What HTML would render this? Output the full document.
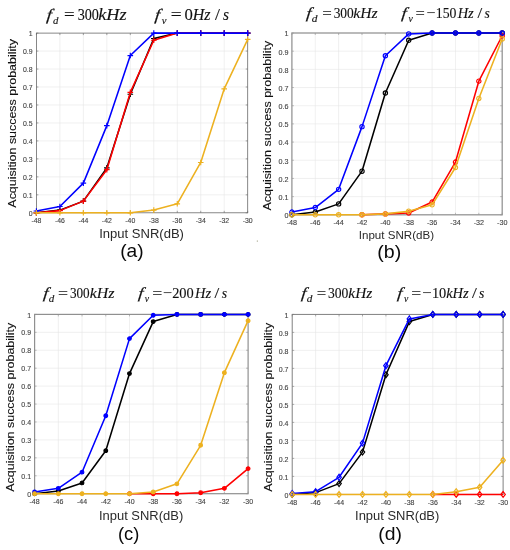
<!DOCTYPE html>
<html lang="en"><head><meta charset="utf-8"><title>Acquisition success probability</title>
<style>
html,body{margin:0;padding:0;background:#fff}
body{width:510px;height:550px;overflow:hidden}
svg{display:block}
text{font-family:"Liberation Sans",sans-serif;fill:#222}
.tk{fill:#444;stroke:#444;stroke-width:0.12px}
.ti{font-family:"Liberation Serif",serif;fill:#111;stroke:#111;stroke-width:0.12px}
.yl{fill:#111;stroke:#111;stroke-width:0.1px}
.xl{fill:#2a2a2a}
.tf{stroke-width:0.25px}
.cap{fill:#0a0a0a}
</style></head><body>
<svg width="510" height="550" viewBox="0 0 510 550">
<rect width="510" height="550" fill="#fff"/>
<g id="pa">
<path d="M59.88 33.1V212.8M83.36 33.1V212.8M106.83 33.1V212.8M130.31 33.1V212.8M153.79 33.1V212.8M177.27 33.1V212.8M200.74 33.1V212.8M224.22 33.1V212.8M36.4 194.83H247.7M36.4 176.86H247.7M36.4 158.89H247.7M36.4 140.92H247.7M36.4 122.95H247.7M36.4 104.98H247.7M36.4 87.01H247.7M36.4 69.04H247.7M36.4 51.07H247.7" stroke="#e6e6e6" stroke-width="0.6" fill="none"/>
<rect x="36.4" y="33.1" width="211.3" height="179.7" fill="none" stroke="#6a6a6a" stroke-width="0.8"/>
<path d="M36.4 212.8v-2M36.4 33.1v2M59.88 212.8v-2M59.88 33.1v2M83.36 212.8v-2M83.36 33.1v2M106.83 212.8v-2M106.83 33.1v2M130.31 212.8v-2M130.31 33.1v2M153.79 212.8v-2M153.79 33.1v2M177.27 212.8v-2M177.27 33.1v2M200.74 212.8v-2M200.74 33.1v2M224.22 212.8v-2M224.22 33.1v2M247.7 212.8v-2M247.7 33.1v2M36.4 212.8h2M247.7 212.8h-2M36.4 194.83h2M247.7 194.83h-2M36.4 176.86h2M247.7 176.86h-2M36.4 158.89h2M247.7 158.89h-2M36.4 140.92h2M247.7 140.92h-2M36.4 122.95h2M247.7 122.95h-2M36.4 104.98h2M247.7 104.98h-2M36.4 87.01h2M247.7 87.01h-2M36.4 69.04h2M247.7 69.04h-2M36.4 51.07h2M247.7 51.07h-2M36.4 33.1h2M247.7 33.1h-2" stroke="#6a6a6a" stroke-width="0.6" fill="none"/>
<text x="36.4" y="223" class="tk" style="font-size:6.9px" text-anchor="middle">-48</text>
<text x="59.88" y="223" class="tk" style="font-size:6.9px" text-anchor="middle">-46</text>
<text x="83.36" y="223" class="tk" style="font-size:6.9px" text-anchor="middle">-44</text>
<text x="106.83" y="223" class="tk" style="font-size:6.9px" text-anchor="middle">-42</text>
<text x="130.31" y="223" class="tk" style="font-size:6.9px" text-anchor="middle">-40</text>
<text x="153.79" y="223" class="tk" style="font-size:6.9px" text-anchor="middle">-38</text>
<text x="177.27" y="223" class="tk" style="font-size:6.9px" text-anchor="middle">-36</text>
<text x="200.74" y="223" class="tk" style="font-size:6.9px" text-anchor="middle">-34</text>
<text x="224.22" y="223" class="tk" style="font-size:6.9px" text-anchor="middle">-32</text>
<text x="247.7" y="223" class="tk" style="font-size:6.9px" text-anchor="middle">-30</text>
<text x="32.6" y="215.81" class="tk" style="font-size:6.9px" text-anchor="end">0</text>
<text x="32.6" y="197.84" class="tk" style="font-size:6.9px" text-anchor="end">0.1</text>
<text x="32.6" y="179.88" class="tk" style="font-size:6.9px" text-anchor="end">0.2</text>
<text x="32.6" y="161.91" class="tk" style="font-size:6.9px" text-anchor="end">0.3</text>
<text x="32.6" y="143.94" class="tk" style="font-size:6.9px" text-anchor="end">0.4</text>
<text x="32.6" y="125.97" class="tk" style="font-size:6.9px" text-anchor="end">0.5</text>
<text x="32.6" y="108" class="tk" style="font-size:6.9px" text-anchor="end">0.6</text>
<text x="32.6" y="90.03" class="tk" style="font-size:6.9px" text-anchor="end">0.7</text>
<text x="32.6" y="72.05" class="tk" style="font-size:6.9px" text-anchor="end">0.8</text>
<text x="32.6" y="54.08" class="tk" style="font-size:6.9px" text-anchor="end">0.9</text>
<text x="32.6" y="36.11" class="tk" style="font-size:6.9px" text-anchor="end">1</text>
<polyline points="36.4,212.8 59.88,210.1 83.36,201.12 106.83,167.88 130.31,94.2 153.79,38.49 177.27,33.1 200.74,33.1 224.22,33.1 247.7,33.1" fill="none" stroke="#000000" stroke-width="1.55" stroke-linejoin="round"/>
<path d="M33.6 212.8h5.6M36.4 210v5.6M57.08 210.1h5.6M59.88 207.3v5.6M80.56 201.12h5.6M83.36 198.32v5.6M104.03 167.88h5.6M106.83 165.07v5.6M127.51 94.2h5.6M130.31 91.4v5.6M150.99 38.49h5.6M153.79 35.69v5.6M174.47 33.1h5.6M177.27 30.3v5.6M197.94 33.1h5.6M200.74 30.3v5.6M221.42 33.1h5.6M224.22 30.3v5.6M244.9 33.1h5.6M247.7 30.3v5.6" fill="none" stroke="#000000" stroke-width="1.15"/>
<polyline points="36.4,212.8 59.88,210.64 83.36,201.12 106.83,169.67 130.31,92.4 153.79,40.29 177.27,33.1 200.74,33.1 224.22,33.1 247.7,33.1" fill="none" stroke="#ff0000" stroke-width="1.55" stroke-linejoin="round"/>
<path d="M33.6 212.8h5.6M36.4 210v5.6M57.08 210.64h5.6M59.88 207.84v5.6M80.56 201.12h5.6M83.36 198.32v5.6M104.03 169.67h5.6M106.83 166.87v5.6M127.51 92.4h5.6M130.31 89.6v5.6M150.99 40.29h5.6M153.79 37.49v5.6M174.47 33.1h5.6M177.27 30.3v5.6M197.94 33.1h5.6M200.74 30.3v5.6M221.42 33.1h5.6M224.22 30.3v5.6M244.9 33.1h5.6M247.7 30.3v5.6" fill="none" stroke="#ff0000" stroke-width="1.15"/>
<polyline points="36.4,211 59.88,206.51 83.36,183.15 106.83,125.65 130.31,55.56 153.79,33.1 177.27,33.1 200.74,33.1 224.22,33.1 247.7,33.1" fill="none" stroke="#0000ff" stroke-width="1.55" stroke-linejoin="round"/>
<path d="M33.6 211h5.6M36.4 208.2v5.6M57.08 206.51h5.6M59.88 203.71v5.6M80.56 183.15h5.6M83.36 180.35v5.6M104.03 125.65h5.6M106.83 122.85v5.6M127.51 55.56h5.6M130.31 52.76v5.6M150.99 33.1h5.6M153.79 30.3v5.6M174.47 33.1h5.6M177.27 30.3v5.6M197.94 33.1h5.6M200.74 30.3v5.6M221.42 33.1h5.6M224.22 30.3v5.6M244.9 33.1h5.6M247.7 30.3v5.6" fill="none" stroke="#0000ff" stroke-width="1.15"/>
<polyline points="36.4,212.8 59.88,212.8 83.36,212.8 106.83,212.8 130.31,212.8 153.79,210.1 177.27,203.81 200.74,162.48 224.22,88.81 247.7,39.39" fill="none" stroke="#edb120" stroke-width="1.55" stroke-linejoin="round"/>
<path d="M33.6 212.8h5.6M36.4 210v5.6M57.08 212.8h5.6M59.88 210v5.6M80.56 212.8h5.6M83.36 210v5.6M104.03 212.8h5.6M106.83 210v5.6M127.51 212.8h5.6M130.31 210v5.6M150.99 210.1h5.6M153.79 207.3v5.6M174.47 203.81h5.6M177.27 201.01v5.6M197.94 162.48h5.6M200.74 159.68v5.6M221.42 88.81h5.6M224.22 86.01v5.6M244.9 39.39h5.6M247.7 36.59v5.6" fill="none" stroke="#edb120" stroke-width="1.15"/>
<text class="ti tf" style="font-size:16px;font-style:italic" transform="translate(46.34 19.7) skewX(-7) scale(1.12 1)">f</text>
<text class="ti" style="font-size:10px;font-style:italic" transform="translate(52.97 23.5) scale(1.0851 1)">d</text>
<text class="ti" style="font-size:16px" transform="translate(64.05 19.7) scale(1.1828 1)">=</text>
<text class="ti" style="font-size:16px" transform="translate(77.69 19.7) scale(0.8865 1)">300</text>
<text class="ti" style="font-size:16px;font-style:italic" transform="translate(98.25 19.7) scale(1.1382 1)">kHz</text>
<text class="ti tf" style="font-size:16px;font-style:italic" transform="translate(154.59 19.7) skewX(-7) scale(1.12 1)">f</text>
<text class="ti" style="font-size:10px;font-style:italic" transform="translate(161.84 23.5) scale(1.0698 1)">v</text>
<text class="ti" style="font-size:16px" transform="translate(170.83 19.7) scale(1.2097 1)">=</text>
<text class="ti" style="font-size:16px" transform="translate(184.43 19.7) scale(1.0417 1)">0</text>
<text class="ti" style="font-size:16px;font-style:italic" transform="translate(192.66 19.7) scale(1.0011 1)">Hz</text>
<text class="ti" style="font-size:16px" transform="translate(215.1 19.7) scale(1.1136 1)">/</text>
<text class="ti" style="font-size:16px;font-style:italic" transform="translate(223.07 19.7) scale(0.9601 1)">s</text>
<text class="yl" style="font-size:11.6px" transform="translate(16.1 207.66) rotate(-90) scale(1.0723 1)">Acquisition success probability</text>
<text class="xl" style="font-size:12px" transform="translate(99.23 238.3) scale(1.0866 1)">Input SNR(dB)</text>
<text class="cap" style="font-size:17.8px" transform="translate(120.15 257.3) scale(1.0776 1)">(a)</text>
</g>
<g id="pb">
<path d="M315.27 33V214.8M338.63 33V214.8M362 33V214.8M385.37 33V214.8M408.73 33V214.8M432.1 33V214.8M455.47 33V214.8M478.83 33V214.8M291.9 196.62H502.2M291.9 178.44H502.2M291.9 160.26H502.2M291.9 142.08H502.2M291.9 123.9H502.2M291.9 105.72H502.2M291.9 87.54H502.2M291.9 69.36H502.2M291.9 51.18H502.2" stroke="#e6e6e6" stroke-width="0.6" fill="none"/>
<rect x="291.9" y="33" width="210.3" height="181.8" fill="none" stroke="#969696" stroke-width="1.3"/>
<path d="M291.9 214.8v-2M291.9 33v2M315.27 214.8v-2M315.27 33v2M338.63 214.8v-2M338.63 33v2M362 214.8v-2M362 33v2M385.37 214.8v-2M385.37 33v2M408.73 214.8v-2M408.73 33v2M432.1 214.8v-2M432.1 33v2M455.47 214.8v-2M455.47 33v2M478.83 214.8v-2M478.83 33v2M502.2 214.8v-2M502.2 33v2M291.9 214.8h2M502.2 214.8h-2M291.9 196.62h2M502.2 196.62h-2M291.9 178.44h2M502.2 178.44h-2M291.9 160.26h2M502.2 160.26h-2M291.9 142.08h2M502.2 142.08h-2M291.9 123.9h2M502.2 123.9h-2M291.9 105.72h2M502.2 105.72h-2M291.9 87.54h2M502.2 87.54h-2M291.9 69.36h2M502.2 69.36h-2M291.9 51.18h2M502.2 51.18h-2M291.9 33h2M502.2 33h-2" stroke="#969696" stroke-width="0.6" fill="none"/>
<text x="291.9" y="225" class="tk" style="font-size:7.2px" text-anchor="middle">-48</text>
<text x="315.27" y="225" class="tk" style="font-size:7.2px" text-anchor="middle">-46</text>
<text x="338.63" y="225" class="tk" style="font-size:7.2px" text-anchor="middle">-44</text>
<text x="362" y="225" class="tk" style="font-size:7.2px" text-anchor="middle">-42</text>
<text x="385.37" y="225" class="tk" style="font-size:7.2px" text-anchor="middle">-40</text>
<text x="408.73" y="225" class="tk" style="font-size:7.2px" text-anchor="middle">-38</text>
<text x="432.1" y="225" class="tk" style="font-size:7.2px" text-anchor="middle">-36</text>
<text x="455.47" y="225" class="tk" style="font-size:7.2px" text-anchor="middle">-34</text>
<text x="478.83" y="225" class="tk" style="font-size:7.2px" text-anchor="middle">-32</text>
<text x="502.2" y="225" class="tk" style="font-size:7.2px" text-anchor="middle">-30</text>
<text x="288.4" y="218.12" class="tk" style="font-size:7.2px" text-anchor="end">0</text>
<text x="288.4" y="199.94" class="tk" style="font-size:7.2px" text-anchor="end">0.1</text>
<text x="288.4" y="181.76" class="tk" style="font-size:7.2px" text-anchor="end">0.2</text>
<text x="288.4" y="163.58" class="tk" style="font-size:7.2px" text-anchor="end">0.3</text>
<text x="288.4" y="145.4" class="tk" style="font-size:7.2px" text-anchor="end">0.4</text>
<text x="288.4" y="127.22" class="tk" style="font-size:7.2px" text-anchor="end">0.5</text>
<text x="288.4" y="109.04" class="tk" style="font-size:7.2px" text-anchor="end">0.6</text>
<text x="288.4" y="90.86" class="tk" style="font-size:7.2px" text-anchor="end">0.7</text>
<text x="288.4" y="72.68" class="tk" style="font-size:7.2px" text-anchor="end">0.8</text>
<text x="288.4" y="54.5" class="tk" style="font-size:7.2px" text-anchor="end">0.9</text>
<text x="288.4" y="36.32" class="tk" style="font-size:7.2px" text-anchor="end">1</text>
<polyline points="291.9,214.8 315.27,212.07 338.63,203.89 362,171.17 385.37,92.99 408.73,40.27 432.1,33 455.47,33 478.83,33 502.2,33" fill="none" stroke="#000000" stroke-width="1.55" stroke-linejoin="round"/>
<path d="M289.75 214.8a2.15 2.15 0 1 0 4.3 0a2.15 2.15 0 1 0 -4.3 0M313.12 212.07a2.15 2.15 0 1 0 4.3 0a2.15 2.15 0 1 0 -4.3 0M336.48 203.89a2.15 2.15 0 1 0 4.3 0a2.15 2.15 0 1 0 -4.3 0M359.85 171.17a2.15 2.15 0 1 0 4.3 0a2.15 2.15 0 1 0 -4.3 0M383.22 92.99a2.15 2.15 0 1 0 4.3 0a2.15 2.15 0 1 0 -4.3 0M406.58 40.27a2.15 2.15 0 1 0 4.3 0a2.15 2.15 0 1 0 -4.3 0M429.95 33a2.15 2.15 0 1 0 4.3 0a2.15 2.15 0 1 0 -4.3 0M453.32 33a2.15 2.15 0 1 0 4.3 0a2.15 2.15 0 1 0 -4.3 0M476.68 33a2.15 2.15 0 1 0 4.3 0a2.15 2.15 0 1 0 -4.3 0M500.05 33a2.15 2.15 0 1 0 4.3 0a2.15 2.15 0 1 0 -4.3 0" fill="none" stroke="#000000" stroke-width="1.15"/>
<polyline points="362,214.8 385.37,213.89 408.73,212.98 432.1,202.07 455.47,162.08 478.83,81.18 502.2,35.73" fill="none" stroke="#ff0000" stroke-width="1.55" stroke-linejoin="round"/>
<path d="M359.85 214.8a2.15 2.15 0 1 0 4.3 0a2.15 2.15 0 1 0 -4.3 0M383.22 213.89a2.15 2.15 0 1 0 4.3 0a2.15 2.15 0 1 0 -4.3 0M406.58 212.98a2.15 2.15 0 1 0 4.3 0a2.15 2.15 0 1 0 -4.3 0M429.95 202.07a2.15 2.15 0 1 0 4.3 0a2.15 2.15 0 1 0 -4.3 0M453.32 162.08a2.15 2.15 0 1 0 4.3 0a2.15 2.15 0 1 0 -4.3 0M476.68 81.18a2.15 2.15 0 1 0 4.3 0a2.15 2.15 0 1 0 -4.3 0M500.05 35.73a2.15 2.15 0 1 0 4.3 0a2.15 2.15 0 1 0 -4.3 0" fill="none" stroke="#ff0000" stroke-width="1.15"/>
<polyline points="291.9,212.07 315.27,207.53 338.63,189.35 362,126.63 385.37,55.72 408.73,33.91 432.1,33 455.47,33 478.83,33 502.2,33" fill="none" stroke="#0000ff" stroke-width="1.55" stroke-linejoin="round"/>
<path d="M289.75 212.07a2.15 2.15 0 1 0 4.3 0a2.15 2.15 0 1 0 -4.3 0M313.12 207.53a2.15 2.15 0 1 0 4.3 0a2.15 2.15 0 1 0 -4.3 0M336.48 189.35a2.15 2.15 0 1 0 4.3 0a2.15 2.15 0 1 0 -4.3 0M359.85 126.63a2.15 2.15 0 1 0 4.3 0a2.15 2.15 0 1 0 -4.3 0M383.22 55.72a2.15 2.15 0 1 0 4.3 0a2.15 2.15 0 1 0 -4.3 0M406.58 33.91a2.15 2.15 0 1 0 4.3 0a2.15 2.15 0 1 0 -4.3 0M429.95 33a2.15 2.15 0 1 0 4.3 0a2.15 2.15 0 1 0 -4.3 0M453.32 33a2.15 2.15 0 1 0 4.3 0a2.15 2.15 0 1 0 -4.3 0M476.68 33a2.15 2.15 0 1 0 4.3 0a2.15 2.15 0 1 0 -4.3 0M500.05 33a2.15 2.15 0 1 0 4.3 0a2.15 2.15 0 1 0 -4.3 0" fill="none" stroke="#0000ff" stroke-width="1.15"/>
<polyline points="291.9,214.8 315.27,214.8 338.63,214.8 362,214.8 385.37,213.89 408.73,211.16 432.1,204.8 455.47,167.53 478.83,98.45 502.2,39" fill="none" stroke="#edb120" stroke-width="1.55" stroke-linejoin="round"/>
<path d="M289.75 214.8a2.15 2.15 0 1 0 4.3 0a2.15 2.15 0 1 0 -4.3 0M313.12 214.8a2.15 2.15 0 1 0 4.3 0a2.15 2.15 0 1 0 -4.3 0M336.48 214.8a2.15 2.15 0 1 0 4.3 0a2.15 2.15 0 1 0 -4.3 0M359.85 214.8a2.15 2.15 0 1 0 4.3 0a2.15 2.15 0 1 0 -4.3 0M383.22 213.89a2.15 2.15 0 1 0 4.3 0a2.15 2.15 0 1 0 -4.3 0M406.58 211.16a2.15 2.15 0 1 0 4.3 0a2.15 2.15 0 1 0 -4.3 0M429.95 204.8a2.15 2.15 0 1 0 4.3 0a2.15 2.15 0 1 0 -4.3 0M453.32 167.53a2.15 2.15 0 1 0 4.3 0a2.15 2.15 0 1 0 -4.3 0M476.68 98.45a2.15 2.15 0 1 0 4.3 0a2.15 2.15 0 1 0 -4.3 0M500.05 39a2.15 2.15 0 1 0 4.3 0a2.15 2.15 0 1 0 -4.3 0" fill="none" stroke="#edb120" stroke-width="1.15"/>
<text class="ti tf" style="font-size:15.4px;font-style:italic" transform="translate(305.89 17.5) skewX(-7) scale(1.12 1)">f</text>
<text class="ti" style="font-size:9.8px;font-style:italic" transform="translate(311.86 21.6) scale(1.1724 1)">d</text>
<text class="ti" style="font-size:15.4px" transform="translate(322.15 17.5) scale(1.1032 1)">=</text>
<text class="ti" style="font-size:15.4px" transform="translate(333.63 17.5) scale(0.8704 1)">300</text>
<text class="ti" style="font-size:15.4px;font-style:italic" transform="translate(353.33 17.5) scale(1.0149 1)">kHz</text>
<text class="ti tf" style="font-size:15.4px;font-style:italic" transform="translate(401.29 17.5) skewX(-7) scale(1.12 1)">f</text>
<text class="ti" style="font-size:9.8px;font-style:italic" transform="translate(408.45 21.6) scale(0.9967 1)">v</text>
<text class="ti" style="font-size:15.4px" transform="translate(415.57 17.5) scale(1.0753 1)">=</text>
<text class="ti" style="font-size:15.4px" transform="translate(426.39 17.5) scale(1.0473 1)">−</text>
<text class="ti" style="font-size:15.4px" transform="translate(435.76 17.5) scale(0.8958 1)">150</text>
<text class="ti" style="font-size:15.4px;font-style:italic" transform="translate(457.64 17.5) scale(0.9402 1)">Hz</text>
<text class="ti" style="font-size:15.4px" transform="translate(477.5 17.5) scale(1.1098 1)">/</text>
<text class="ti" style="font-size:15.4px;font-style:italic" transform="translate(484.4 17.5) scale(0.8846 1)">s</text>
<text class="yl" style="font-size:11.4px" transform="translate(271.2 210.56) rotate(-90) scale(1.0988 1)">Acquisition success probability</text>
<text class="xl" style="font-size:11.2px" transform="translate(358.76 239.4) scale(1.0349 1)">Input SNR(dB)</text>
<text class="cap" style="font-size:18.6px" transform="translate(377.22 258.4) scale(1.0557 1)">(b)</text>
</g>
<g id="pc">
<path d="M58.32 314.4V493.7M82.04 314.4V493.7M105.77 314.4V493.7M129.49 314.4V493.7M153.21 314.4V493.7M176.93 314.4V493.7M200.66 314.4V493.7M224.38 314.4V493.7M34.6 475.77H248.1M34.6 457.84H248.1M34.6 439.91H248.1M34.6 421.98H248.1M34.6 404.05H248.1M34.6 386.12H248.1M34.6 368.19H248.1M34.6 350.26H248.1M34.6 332.33H248.1" stroke="#e6e6e6" stroke-width="0.6" fill="none"/>
<rect x="34.6" y="314.4" width="213.5" height="179.3" fill="none" stroke="#909090" stroke-width="1.2"/>
<path d="M34.6 493.7v-2M34.6 314.4v2M58.32 493.7v-2M58.32 314.4v2M82.04 493.7v-2M82.04 314.4v2M105.77 493.7v-2M105.77 314.4v2M129.49 493.7v-2M129.49 314.4v2M153.21 493.7v-2M153.21 314.4v2M176.93 493.7v-2M176.93 314.4v2M200.66 493.7v-2M200.66 314.4v2M224.38 493.7v-2M224.38 314.4v2M248.1 493.7v-2M248.1 314.4v2M34.6 493.7h2M248.1 493.7h-2M34.6 475.77h2M248.1 475.77h-2M34.6 457.84h2M248.1 457.84h-2M34.6 439.91h2M248.1 439.91h-2M34.6 421.98h2M248.1 421.98h-2M34.6 404.05h2M248.1 404.05h-2M34.6 386.12h2M248.1 386.12h-2M34.6 368.19h2M248.1 368.19h-2M34.6 350.26h2M248.1 350.26h-2M34.6 332.33h2M248.1 332.33h-2M34.6 314.4h2M248.1 314.4h-2" stroke="#909090" stroke-width="0.6" fill="none"/>
<text x="34.6" y="503.9" class="tk" style="font-size:7px" text-anchor="middle">-48</text>
<text x="58.32" y="503.9" class="tk" style="font-size:7px" text-anchor="middle">-46</text>
<text x="82.04" y="503.9" class="tk" style="font-size:7px" text-anchor="middle">-44</text>
<text x="105.77" y="503.9" class="tk" style="font-size:7px" text-anchor="middle">-42</text>
<text x="129.49" y="503.9" class="tk" style="font-size:7px" text-anchor="middle">-40</text>
<text x="153.21" y="503.9" class="tk" style="font-size:7px" text-anchor="middle">-38</text>
<text x="176.93" y="503.9" class="tk" style="font-size:7px" text-anchor="middle">-36</text>
<text x="200.66" y="503.9" class="tk" style="font-size:7px" text-anchor="middle">-34</text>
<text x="224.38" y="503.9" class="tk" style="font-size:7px" text-anchor="middle">-32</text>
<text x="248.1" y="503.9" class="tk" style="font-size:7px" text-anchor="middle">-30</text>
<text x="31.1" y="496.85" class="tk" style="font-size:7px" text-anchor="end">0</text>
<text x="31.1" y="478.92" class="tk" style="font-size:7px" text-anchor="end">0.1</text>
<text x="31.1" y="460.99" class="tk" style="font-size:7px" text-anchor="end">0.2</text>
<text x="31.1" y="443.06" class="tk" style="font-size:7px" text-anchor="end">0.3</text>
<text x="31.1" y="425.13" class="tk" style="font-size:7px" text-anchor="end">0.4</text>
<text x="31.1" y="407.2" class="tk" style="font-size:7px" text-anchor="end">0.5</text>
<text x="31.1" y="389.27" class="tk" style="font-size:7px" text-anchor="end">0.6</text>
<text x="31.1" y="371.34" class="tk" style="font-size:7px" text-anchor="end">0.7</text>
<text x="31.1" y="353.41" class="tk" style="font-size:7px" text-anchor="end">0.8</text>
<text x="31.1" y="335.48" class="tk" style="font-size:7px" text-anchor="end">0.9</text>
<text x="31.1" y="317.55" class="tk" style="font-size:7px" text-anchor="end">1</text>
<polyline points="34.6,493.7 58.32,491.01 82.04,482.94 105.77,450.67 129.49,373.57 153.21,321.57 176.93,314.4 200.66,314.4 224.38,314.4 248.1,314.4" fill="none" stroke="#000000" stroke-width="1.55" stroke-linejoin="round"/>
<path d="M32.75 493.7a1.85 1.85 0 1 0 3.7 0a1.85 1.85 0 1 0 -3.7 0M56.47 491.01a1.85 1.85 0 1 0 3.7 0a1.85 1.85 0 1 0 -3.7 0M80.19 482.94a1.85 1.85 0 1 0 3.7 0a1.85 1.85 0 1 0 -3.7 0M103.92 450.67a1.85 1.85 0 1 0 3.7 0a1.85 1.85 0 1 0 -3.7 0M127.64 373.57a1.85 1.85 0 1 0 3.7 0a1.85 1.85 0 1 0 -3.7 0M151.36 321.57a1.85 1.85 0 1 0 3.7 0a1.85 1.85 0 1 0 -3.7 0M175.08 314.4a1.85 1.85 0 1 0 3.7 0a1.85 1.85 0 1 0 -3.7 0M198.81 314.4a1.85 1.85 0 1 0 3.7 0a1.85 1.85 0 1 0 -3.7 0M222.53 314.4a1.85 1.85 0 1 0 3.7 0a1.85 1.85 0 1 0 -3.7 0M246.25 314.4a1.85 1.85 0 1 0 3.7 0a1.85 1.85 0 1 0 -3.7 0" fill="#000000" stroke="#000000" stroke-width="1.15"/>
<polyline points="129.49,493.7 153.21,493.7 176.93,493.7 200.66,492.8 224.38,488.32 248.1,468.6" fill="none" stroke="#ff0000" stroke-width="1.55" stroke-linejoin="round"/>
<path d="M127.64 493.7a1.85 1.85 0 1 0 3.7 0a1.85 1.85 0 1 0 -3.7 0M151.36 493.7a1.85 1.85 0 1 0 3.7 0a1.85 1.85 0 1 0 -3.7 0M175.08 493.7a1.85 1.85 0 1 0 3.7 0a1.85 1.85 0 1 0 -3.7 0M198.81 492.8a1.85 1.85 0 1 0 3.7 0a1.85 1.85 0 1 0 -3.7 0M222.53 488.32a1.85 1.85 0 1 0 3.7 0a1.85 1.85 0 1 0 -3.7 0M246.25 468.6a1.85 1.85 0 1 0 3.7 0a1.85 1.85 0 1 0 -3.7 0" fill="#ff0000" stroke="#ff0000" stroke-width="1.15"/>
<polyline points="34.6,491.91 58.32,488.32 82.04,472.18 105.77,415.7 129.49,338.61 153.21,315.3 176.93,314.4 200.66,314.4 224.38,314.4 248.1,314.4" fill="none" stroke="#0000ff" stroke-width="1.55" stroke-linejoin="round"/>
<path d="M32.75 491.91a1.85 1.85 0 1 0 3.7 0a1.85 1.85 0 1 0 -3.7 0M56.47 488.32a1.85 1.85 0 1 0 3.7 0a1.85 1.85 0 1 0 -3.7 0M80.19 472.18a1.85 1.85 0 1 0 3.7 0a1.85 1.85 0 1 0 -3.7 0M103.92 415.7a1.85 1.85 0 1 0 3.7 0a1.85 1.85 0 1 0 -3.7 0M127.64 338.61a1.85 1.85 0 1 0 3.7 0a1.85 1.85 0 1 0 -3.7 0M151.36 315.3a1.85 1.85 0 1 0 3.7 0a1.85 1.85 0 1 0 -3.7 0M175.08 314.4a1.85 1.85 0 1 0 3.7 0a1.85 1.85 0 1 0 -3.7 0M198.81 314.4a1.85 1.85 0 1 0 3.7 0a1.85 1.85 0 1 0 -3.7 0M222.53 314.4a1.85 1.85 0 1 0 3.7 0a1.85 1.85 0 1 0 -3.7 0M246.25 314.4a1.85 1.85 0 1 0 3.7 0a1.85 1.85 0 1 0 -3.7 0" fill="#0000ff" stroke="#0000ff" stroke-width="1.15"/>
<polyline points="34.6,493.7 58.32,493.7 82.04,493.7 105.77,493.7 129.49,493.7 153.21,491.91 176.93,483.84 200.66,445.29 224.38,372.67 248.1,320.68" fill="none" stroke="#edb120" stroke-width="1.55" stroke-linejoin="round"/>
<path d="M32.75 493.7a1.85 1.85 0 1 0 3.7 0a1.85 1.85 0 1 0 -3.7 0M56.47 493.7a1.85 1.85 0 1 0 3.7 0a1.85 1.85 0 1 0 -3.7 0M80.19 493.7a1.85 1.85 0 1 0 3.7 0a1.85 1.85 0 1 0 -3.7 0M103.92 493.7a1.85 1.85 0 1 0 3.7 0a1.85 1.85 0 1 0 -3.7 0M127.64 493.7a1.85 1.85 0 1 0 3.7 0a1.85 1.85 0 1 0 -3.7 0M151.36 491.91a1.85 1.85 0 1 0 3.7 0a1.85 1.85 0 1 0 -3.7 0M175.08 483.84a1.85 1.85 0 1 0 3.7 0a1.85 1.85 0 1 0 -3.7 0M198.81 445.29a1.85 1.85 0 1 0 3.7 0a1.85 1.85 0 1 0 -3.7 0M222.53 372.67a1.85 1.85 0 1 0 3.7 0a1.85 1.85 0 1 0 -3.7 0M246.25 320.68a1.85 1.85 0 1 0 3.7 0a1.85 1.85 0 1 0 -3.7 0" fill="#edb120" stroke="#edb120" stroke-width="1.15"/>
<text class="ti tf" style="font-size:15.4px;font-style:italic" transform="translate(42.89 297.9) skewX(-7) scale(1.12 1)">f</text>
<text class="ti" style="font-size:9.8px;font-style:italic" transform="translate(48.87 302) scale(1.1290 1)">d</text>
<text class="ti" style="font-size:15.4px" transform="translate(58.11 297.9) scale(1.1591 1)">=</text>
<text class="ti" style="font-size:15.4px" transform="translate(69.94 297.9) scale(0.8566 1)">300</text>
<text class="ti" style="font-size:15.4px;font-style:italic" transform="translate(89.72 297.9) scale(1.0364 1)">kHz</text>
<text class="ti tf" style="font-size:15.4px;font-style:italic" transform="translate(137.89 297.9) skewX(-7) scale(1.12 1)">f</text>
<text class="ti" style="font-size:9.8px;font-style:italic" transform="translate(144.65 302) scale(0.9967 1)">v</text>
<text class="ti" style="font-size:15.4px" transform="translate(152.31 297.9) scale(1.1591 1)">=</text>
<text class="ti" style="font-size:15.4px" transform="translate(162.98 297.9) scale(1.0613 1)">−</text>
<text class="ti" style="font-size:15.4px" transform="translate(172.15 297.9) scale(0.9362 1)">200</text>
<text class="ti" style="font-size:15.4px;font-style:italic" transform="translate(195.04 297.9) scale(0.9402 1)">Hz</text>
<text class="ti" style="font-size:15.4px" transform="translate(214.4 297.9) scale(1.1098 1)">/</text>
<text class="ti" style="font-size:15.4px;font-style:italic" transform="translate(221.7 297.9) scale(0.8846 1)">s</text>
<text class="yl" style="font-size:11.6px" transform="translate(13.6 491.76) rotate(-90) scale(1.0761 1)">Acquisition success probability</text>
<text class="xl" style="font-size:12px" transform="translate(98.93 520) scale(1.0814 1)">Input SNR(dB)</text>
<text class="cap" style="font-size:19px" transform="translate(118 539.9) scale(0.9670 1)">(c)</text>
</g>
<g id="pd">
<path d="M315.63 314.4V494.4M339.07 314.4V494.4M362.5 314.4V494.4M385.93 314.4V494.4M409.37 314.4V494.4M432.8 314.4V494.4M456.23 314.4V494.4M479.67 314.4V494.4M292.2 476.4H503.1M292.2 458.4H503.1M292.2 440.4H503.1M292.2 422.4H503.1M292.2 404.4H503.1M292.2 386.4H503.1M292.2 368.4H503.1M292.2 350.4H503.1M292.2 332.4H503.1" stroke="#e6e6e6" stroke-width="0.6" fill="none"/>
<rect x="292.2" y="314.4" width="210.9" height="180" fill="none" stroke="#7a7a7a" stroke-width="0.95"/>
<path d="M292.2 494.4v-2M292.2 314.4v2M315.63 494.4v-2M315.63 314.4v2M339.07 494.4v-2M339.07 314.4v2M362.5 494.4v-2M362.5 314.4v2M385.93 494.4v-2M385.93 314.4v2M409.37 494.4v-2M409.37 314.4v2M432.8 494.4v-2M432.8 314.4v2M456.23 494.4v-2M456.23 314.4v2M479.67 494.4v-2M479.67 314.4v2M503.1 494.4v-2M503.1 314.4v2M292.2 494.4h2M503.1 494.4h-2M292.2 476.4h2M503.1 476.4h-2M292.2 458.4h2M503.1 458.4h-2M292.2 440.4h2M503.1 440.4h-2M292.2 422.4h2M503.1 422.4h-2M292.2 404.4h2M503.1 404.4h-2M292.2 386.4h2M503.1 386.4h-2M292.2 368.4h2M503.1 368.4h-2M292.2 350.4h2M503.1 350.4h-2M292.2 332.4h2M503.1 332.4h-2M292.2 314.4h2M503.1 314.4h-2" stroke="#7a7a7a" stroke-width="0.6" fill="none"/>
<text x="292.2" y="504.6" class="tk" style="font-size:7px" text-anchor="middle">-48</text>
<text x="315.63" y="504.6" class="tk" style="font-size:7px" text-anchor="middle">-46</text>
<text x="339.07" y="504.6" class="tk" style="font-size:7px" text-anchor="middle">-44</text>
<text x="362.5" y="504.6" class="tk" style="font-size:7px" text-anchor="middle">-42</text>
<text x="385.93" y="504.6" class="tk" style="font-size:7px" text-anchor="middle">-40</text>
<text x="409.37" y="504.6" class="tk" style="font-size:7px" text-anchor="middle">-38</text>
<text x="432.8" y="504.6" class="tk" style="font-size:7px" text-anchor="middle">-36</text>
<text x="456.23" y="504.6" class="tk" style="font-size:7px" text-anchor="middle">-34</text>
<text x="479.67" y="504.6" class="tk" style="font-size:7px" text-anchor="middle">-32</text>
<text x="503.1" y="504.6" class="tk" style="font-size:7px" text-anchor="middle">-30</text>
<text x="288.5" y="497.55" class="tk" style="font-size:7px" text-anchor="end">0</text>
<text x="288.5" y="479.55" class="tk" style="font-size:7px" text-anchor="end">0.1</text>
<text x="288.5" y="461.55" class="tk" style="font-size:7px" text-anchor="end">0.2</text>
<text x="288.5" y="443.55" class="tk" style="font-size:7px" text-anchor="end">0.3</text>
<text x="288.5" y="425.55" class="tk" style="font-size:7px" text-anchor="end">0.4</text>
<text x="288.5" y="407.55" class="tk" style="font-size:7px" text-anchor="end">0.5</text>
<text x="288.5" y="389.55" class="tk" style="font-size:7px" text-anchor="end">0.6</text>
<text x="288.5" y="371.55" class="tk" style="font-size:7px" text-anchor="end">0.7</text>
<text x="288.5" y="353.55" class="tk" style="font-size:7px" text-anchor="end">0.8</text>
<text x="288.5" y="335.55" class="tk" style="font-size:7px" text-anchor="end">0.9</text>
<text x="288.5" y="317.55" class="tk" style="font-size:7px" text-anchor="end">1</text>
<polyline points="292.2,494.4 315.63,492.6 339.07,483.6 362.5,452.1 385.93,374.7 409.37,321.6 432.8,314.4 456.23,314.4 479.67,314.4 503.1,314.4" fill="none" stroke="#000000" stroke-width="1.55" stroke-linejoin="round"/>
<path d="M289.95 494.4l2.25 -3l2.25 3l-2.25 3zM313.38 492.6l2.25 -3l2.25 3l-2.25 3zM336.82 483.6l2.25 -3l2.25 3l-2.25 3zM360.25 452.1l2.25 -3l2.25 3l-2.25 3zM383.68 374.7l2.25 -3l2.25 3l-2.25 3zM407.12 321.6l2.25 -3l2.25 3l-2.25 3zM430.55 314.4l2.25 -3l2.25 3l-2.25 3zM453.98 314.4l2.25 -3l2.25 3l-2.25 3zM477.42 314.4l2.25 -3l2.25 3l-2.25 3zM500.85 314.4l2.25 -3l2.25 3l-2.25 3z" fill="none" stroke="#000000" stroke-width="1.15"/>
<polyline points="432.8,494.4 456.23,494.4 479.67,494.4 503.1,494.4" fill="none" stroke="#ff0000" stroke-width="1.55" stroke-linejoin="round"/>
<path d="M430.55 494.4l2.25 -3l2.25 3l-2.25 3zM453.98 494.4l2.25 -3l2.25 3l-2.25 3zM477.42 494.4l2.25 -3l2.25 3l-2.25 3zM500.85 494.4l2.25 -3l2.25 3l-2.25 3z" fill="none" stroke="#ff0000" stroke-width="1.15"/>
<polyline points="292.2,493.5 315.63,491.7 339.07,477.3 362.5,443.1 385.93,365.7 409.37,318.9 432.8,314.4 456.23,314.4 479.67,314.4 503.1,314.4" fill="none" stroke="#0000ff" stroke-width="1.55" stroke-linejoin="round"/>
<path d="M289.95 493.5l2.25 -3l2.25 3l-2.25 3zM313.38 491.7l2.25 -3l2.25 3l-2.25 3zM336.82 477.3l2.25 -3l2.25 3l-2.25 3zM360.25 443.1l2.25 -3l2.25 3l-2.25 3zM383.68 365.7l2.25 -3l2.25 3l-2.25 3zM407.12 318.9l2.25 -3l2.25 3l-2.25 3zM430.55 314.4l2.25 -3l2.25 3l-2.25 3zM453.98 314.4l2.25 -3l2.25 3l-2.25 3zM477.42 314.4l2.25 -3l2.25 3l-2.25 3zM500.85 314.4l2.25 -3l2.25 3l-2.25 3z" fill="none" stroke="#0000ff" stroke-width="1.15"/>
<polyline points="292.2,494.4 315.63,494.4 339.07,494.4 362.5,494.4 385.93,494.4 409.37,494.4 432.8,494.4 456.23,491.7 479.67,487.2 503.1,460.2" fill="none" stroke="#edb120" stroke-width="1.55" stroke-linejoin="round"/>
<path d="M289.95 494.4l2.25 -3l2.25 3l-2.25 3zM313.38 494.4l2.25 -3l2.25 3l-2.25 3zM336.82 494.4l2.25 -3l2.25 3l-2.25 3zM360.25 494.4l2.25 -3l2.25 3l-2.25 3zM383.68 494.4l2.25 -3l2.25 3l-2.25 3zM407.12 494.4l2.25 -3l2.25 3l-2.25 3zM430.55 494.4l2.25 -3l2.25 3l-2.25 3zM453.98 491.7l2.25 -3l2.25 3l-2.25 3zM477.42 487.2l2.25 -3l2.25 3l-2.25 3zM500.85 460.2l2.25 -3l2.25 3l-2.25 3z" fill="none" stroke="#edb120" stroke-width="1.15"/>
<text class="ti tf" style="font-size:15.4px;font-style:italic" transform="translate(300.89 298) skewX(-7) scale(1.12 1)">f</text>
<text class="ti" style="font-size:9.8px;font-style:italic" transform="translate(306.86 302.1) scale(1.1507 1)">d</text>
<text class="ti" style="font-size:15.4px" transform="translate(316.66 298) scale(1.0892 1)">=</text>
<text class="ti" style="font-size:15.4px" transform="translate(327.92 298) scale(0.8842 1)">300</text>
<text class="ti" style="font-size:15.4px;font-style:italic" transform="translate(348.34 298) scale(0.9977 1)">kHz</text>
<text class="ti tf" style="font-size:15.4px;font-style:italic" transform="translate(396.99 298) skewX(-7) scale(1.12 1)">f</text>
<text class="ti" style="font-size:9.8px;font-style:italic" transform="translate(403.95 302.1) scale(0.9967 1)">v</text>
<text class="ti" style="font-size:15.4px" transform="translate(411.22 298) scale(1.1451 1)">=</text>
<text class="ti" style="font-size:15.4px" transform="translate(422.26 298) scale(1.0892 1)">−</text>
<text class="ti" style="font-size:15.4px" transform="translate(431.91 298) scale(0.9330 1)">10</text>
<text class="ti" style="font-size:15.4px;font-style:italic" transform="translate(446.16 298) scale(0.9418 1)">kHz</text>
<text class="ti" style="font-size:15.4px" transform="translate(472 298) scale(1.1334 1)">/</text>
<text class="ti" style="font-size:15.4px;font-style:italic" transform="translate(478.9 298) scale(0.8846 1)">s</text>
<text class="yl" style="font-size:11.6px" transform="translate(271.6 491.76) rotate(-90) scale(1.0761 1)">Acquisition success probability</text>
<text class="xl" style="font-size:12px" transform="translate(355.03 520) scale(1.0814 1)">Input SNR(dB)</text>
<text class="cap" style="font-size:19px" transform="translate(378.34 539.9) scale(1.0191 1)">(d)</text>
</g>
<rect x="256.8" y="240.5" width="1.1" height="1.2" fill="#a8a890"/>
</svg>
</body></html>
